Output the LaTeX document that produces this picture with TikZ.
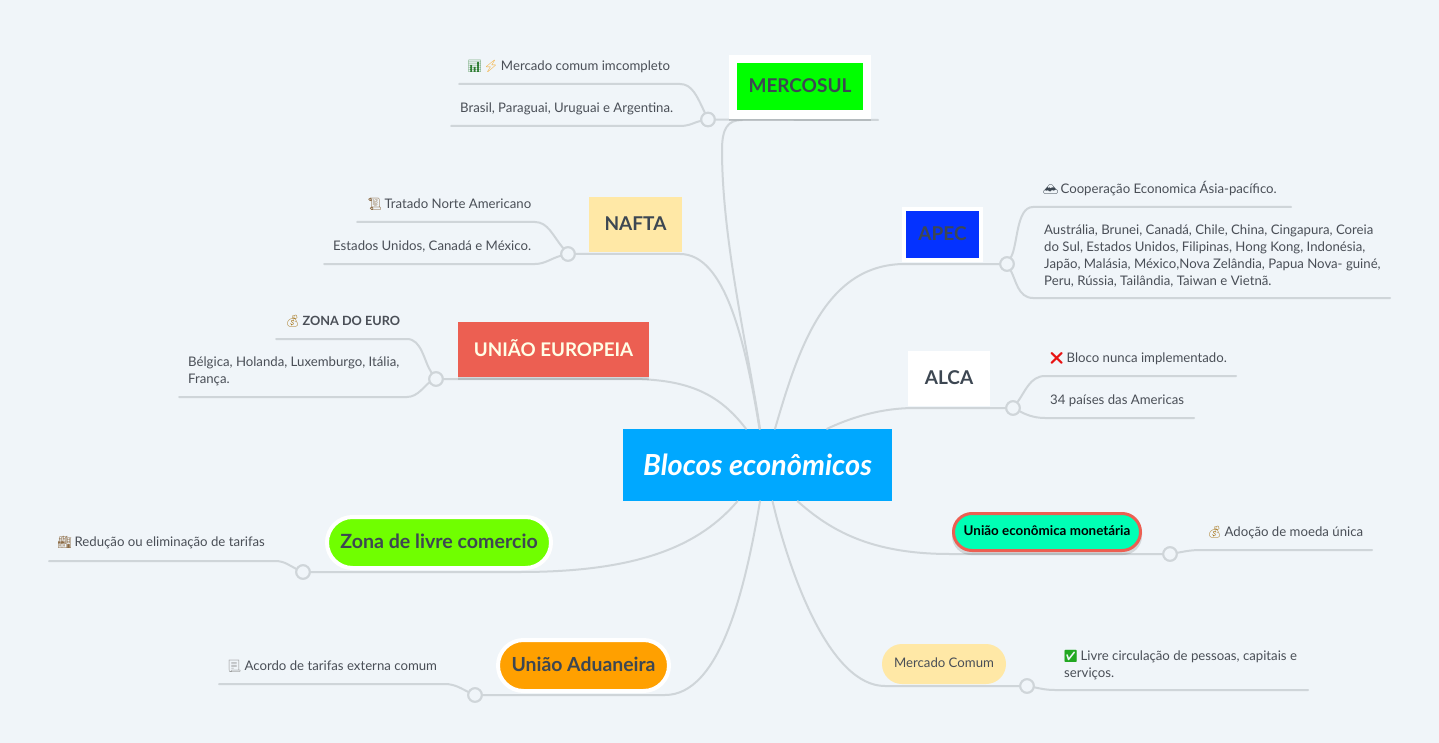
\documentclass[tikz,border=0pt]{standalone}
\usepackage{fontspec}
\setmainfont{Lato}
\newfontfamily\emo{Noto Emoji}
\usetikzlibrary{calc,shapes.misc}
\definecolor{bgc}{HTML}{F0F5F9}
\definecolor{linec}{HTML}{CFD5D9}
\definecolor{txt}{HTML}{4A4F57}
\definecolor{head}{HTML}{3D4752}
\definecolor{sandc}{HTML}{FFE8A6}
\definecolor{redc}{HTML}{EC5F52}
\definecolor{centerc}{HTML}{00A8FF}
\newcommand{\sz}[1]{\fontsize{#1}{17}\selectfont}
\newcommand{\ico}[2]{\makebox[13pt][c]{\emo\sz{12}\textcolor[HTML]{#1}{#2}}}
\tikzset{
  x=1pt,y=-1pt,
  conn/.style={draw=linec,line width=2pt,line cap=round},
  dot/.style={circle,draw=linec,fill=bgc,line width=2pt,minimum size=13.5pt,inner sep=0pt},
  leaf/.style={anchor=base west,inner sep=0pt,text=txt,font=\sz{13.2},align=left},
  topic/.style={anchor=center,inner sep=0pt,yshift=1pt,text=head,font=\sz{19}\bfseries},
  box/.style={rectangle,inner sep=0pt,anchor=center},
  shadowbox/.style={fill=black,opacity=.12},
  pill/.style={rounded rectangle,inner sep=0pt},
  wpill/.style={pill,draw=white,line width=4pt}
}
\newcommand{\boxat}[6]{% name, x0,y0,x1,y1, style
  \node[box,#6,minimum width=#4pt-#2pt,minimum height=#5pt-#3pt] (#1) at ({(#2+#4)/2},{(#3+#5)/2}) {};}
\begin{document}
\begin{tikzpicture}
\useasboundingbox (0,0) rectangle (1439,743);
\fill[bgc] (0,0) rectangle (1439,743);
% connector dots (drawn first so that connectors can refer to them)
\node[dot] (dMerc) at (708,119.5) {};
\node[dot] (dNaf) at (568,254) {};
\node[dot] (dUE) at (436,379) {};
\node[dot] (dApec) at (1007,264) {};
\node[dot] (dAlca) at (1013,408) {};
\node[dot] (dUem) at (1170,554) {};
\node[dot] (dMc) at (1027,686) {};
\node[dot] (dZona) at (303,572) {};
\node[dot] (dUa) at (475,695) {};
\boxat{center}{623}{429}{892}{501}{fill=centerc}
% main branches
\coordinate (eMerc) at (878,120);
\draw[conn] ([xshift=2.5pt]center.north) .. controls (748,350) and (722,240) .. (722,150) .. controls (722,128) and (728,120) .. (742,120);
\draw[conn] (dMerc) -- (eMerc);
\draw[conn] ([xshift=2pt]center.north) .. controls (745,340) and (725,254) .. (680,254) -- (dNaf);
\draw[conn] ([xshift=-11.5pt]center.north) .. controls (720,395) and (690,379) .. (630,379) -- (dUE);
\draw[conn] ([xshift=17.5pt]center.north) .. controls (798,350) and (825,264) .. (905,264) -- (dApec);
\draw[conn] ([xshift=69.5pt]center.north) .. controls (850,418) and (880,408) .. (915,408) -- (dAlca);
\draw[conn] ([xshift=40pt]center.south) .. controls (830,530) and (870,554) .. (950,554) -- (dUem);
\draw[conn] ([xshift=15pt]center.south) .. controls (790,575) and (830,686) .. (885,686) -- (dMc);
\draw[conn] ([xshift=-20pt]center.south) .. controls (700,545) and (640,572) .. (520,572) -- (dZona);
\draw[conn] ([xshift=2.5pt]center.south) .. controls (745,590) and (720,695) .. (665,695) -- (dUa);
% leaf branches
\coordinate (m1) at (459,84); \coordinate (m2) at (451,126);
\draw[conn] (m1) -- (680,84) .. controls (692,84) and (697,96) .. (dMerc);
\draw[conn] (m2) -- (680,126) .. controls (690,126) and (695,122) .. (dMerc);
\coordinate (n1) at (357,222); \coordinate (n2) at (324,264);
\draw[conn] (n1) -- (535,222) .. controls (548,222) and (553,236) .. (dNaf);
\draw[conn] (n2) -- (535,264) .. controls (545,264) and (552,258) .. (dNaf);
\coordinate (u1) at (276,339); \coordinate (u2) at (179,397);
\draw[conn] (u1) -- (407,339) .. controls (422,339) and (424,362) .. (dUE);
\draw[conn] (u2) -- (407,397) .. controls (418,397) and (425,385) .. (dUE);
\coordinate (a1) at (1291,207); \coordinate (a2) at (1390,298);
\draw[conn] (a2) -- (1033,298) .. controls (1018,298) and (1016,280) .. (dApec);
\draw[conn] (a1) -- (1033,207) .. controls (1016,207) and (1018,245) .. (dApec);
\coordinate (l1) at (1236,376); \coordinate (l2) at (1194,418);
\draw[conn] (l1) -- (1045,376) .. controls (1030,376) and (1025,392) .. (dAlca);
\draw[conn] (l2) -- (1045,418) .. controls (1033,418) and (1025,414) .. (dAlca);
\coordinate (e1) at (1372,550);
\draw[conn] (e1) -- (1200,550) .. controls (1190,550) and (1182,552) .. (dUem);
\coordinate (c1) at (1308,690);
\draw[conn] (c1) -- (1055,690) .. controls (1045,690) and (1038,688) .. (dMc);
\coordinate (z1) at (49,561);
\draw[conn] (z1) -- (275,561) .. controls (285,561) and (290,566) .. (dZona);
\coordinate (q1) at (219,684);
\draw[conn] (q1) -- (445,684) .. controls (455,684) and (462,689) .. (dUa);
% dots again, above the connector ends
\foreach \d/\p in {a/{708,119.5},b/{568,254},c/{436,379},d/{1007,264},e/{1013,408},f/{1170,554},g/{1027,686},h/{303,572},i/{475,695}}
  \node[dot] (top\d) at (\p) {};
% topic nodes
\fill[shadowbox] (729,58) rectangle (871,121.5);
\boxat{mercOut}{729}{55}{871}{119}{fill=white}
\boxat{merc}{737}{63}{863}{110}{fill=green}
\node[topic] (tMerc) at (merc.center) {MERCOSUL};
\boxat{naf}{589}{197}{682}{252}{fill=sandc}
\node[topic] (tNaf) at (naf.center) {NAFTA};
\fill[shadowbox] (458,325) rectangle (649,379.5);
\boxat{ue}{458}{322}{649}{377}{fill=redc}
\node[topic,text=white!90!yellow,font=\sz{18.8}\bfseries] (tUe) at (ue.center) {UNIÃO EUROPEIA};
\boxat{apecOut}{902}{207}{983}{262}{fill=white}
\boxat{apec}{906}{211}{979}{258}{fill={rgb,255:red,4;green,50;blue,255}}
\node[topic] (tApec) at (apec.center) {APEC};
\boxat{alca}{908}{351}{990}{406}{fill=white}
\node[topic] (tAlca) at (alca.center) {ALCA};
\node[topic,yshift=-1pt,text=white,font=\sz{29}\bfseries\itshape] (tCenter) at (center.center) {Blocos econômicos};
\node[wpill,fill={rgb,255:red,112;green,255;blue,0},minimum width=224pt,minimum height=51pt] (zona) at (439,542.5) {};
\node[topic,font=\sz{19.6}\bfseries] (tZona) at (zona.center) {Zona de livre comercio};
\node[wpill,fill={rgb,255:red,255;green,160;blue,0},minimum width=171pt,minimum height=51pt] (ua) at (583.5,665.5) {};
\node[topic,font=\sz{19.4}\bfseries] (tUa) at (ua.center) {União Aduaneira};
\fill[shadowbox,rounded corners=19pt] (952,514) rectangle (1142,555);
\node[pill,draw=redc,line width=3pt,fill={rgb,255:red,0;green,255;blue,181},minimum width=187pt,minimum height=37pt] (uem) at (1047,532) {};
\node[topic,text=black,font=\sz{13.4}\bfseries] (tUem) at (uem.center) {União econômica monetária};
\node[pill,fill=sandc,minimum width=124pt,minimum height=40pt] (mc) at (944,664) {};
\node[topic,text=txt,font=\sz{13.2}] (tMc) at (mc.center) {Mercado Comum};
% leaf texts
\node[leaf] (tm1) at (468,71) {\ico{2E7D32}{📊} \ico{F5A623}{⚡} Mercado comum imcompleto};
\node[leaf] (tm2) at (460,113) {Brasil, Paraguai, Uruguai e Argentina.};
\node[leaf] (tn1) at (368,209) {\ico{8C6B45}{📜} Tratado Norte Americano};
\node[leaf] (tn2) at (333,251) {Estados Unidos, Canadá e México.};
\node[leaf] (tu1) at (286,325) {\ico{A87820}{💰} {\sz{12.7}\bfseries ZONA DO EURO}};
\node[leaf,anchor=north west] (tu2) at (188,356.5) {Bélgica, Holanda, Luxemburgo, Itália,\\França.};
\node[leaf] (ta1) at (1044,194) {\ico{3D4752}{🗻} Cooperação Economica Ásia-pacífico.};
\node[leaf,anchor=north west] (ta2) at (1044,224.5) {Austrália, Brunei, Canadá, Chile, China, Cingapura, Coreia\\do Sul, Estados Unidos, Filipinas, Hong Kong, Indonésia,\\Japão, Malásia, México,Nova Zelândia, Papua Nova- guiné,\\Peru, Rússia, Tailândia, Taiwan e Vietnã.};
\node[leaf] (tl1) at (1050,362) {\ico{E81313}{❌} Bloco nunca implementado.};
\node[leaf] (tl2) at (1050,404) {34 países das Americas};
\node[leaf] (te1) at (1208,536) {\ico{A87820}{💰} Adoção de moeda única};
\node[leaf,anchor=north west] (tc1) at (1064,650) {\ico{22A822}{✅} Livre circulação de pessoas, capitais e\\serviços.};
\node[leaf] (tz1) at (58,546.5) {\ico{8C6B45}{🏭} Redução ou eliminação de tarifas};
\node[leaf] (tq1) at (228,670) {\ico{8E8E8E}{📃} Acordo de tarifas externa comum};
\end{tikzpicture}
\end{document}
